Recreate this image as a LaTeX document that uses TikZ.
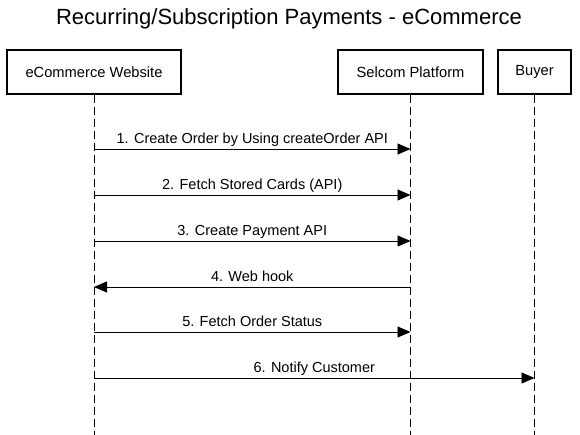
\documentclass[tikz,border=0pt]{standalone}
\usepackage{fontspec}
\setmainfont{Liberation Sans}
\usetikzlibrary{arrows.meta}
\begin{document}
\begin{tikzpicture}[x=1pt,y=-1pt,
  actor/.style={draw,line width=1.6pt,minimum height=44pt,inner sep=0pt,font=\fontsize{14.7}{17}\selectfont},
  life/.style={dash pattern=on 8pt off 4pt,line width=0.9pt},
  msg/.style={line width=0.9pt,-{Triangle[length=13pt,width=11pt]}},
  lbl/.style={font=\fontsize{14.5}{17}\selectfont,inner sep=0pt,above=5.5pt,anchor=base}]
\useasboundingbox (0,0) rectangle (580,435);
\node[font=\fontsize{22}{25}\selectfont,anchor=base] (title) at (289,25) {Recurring/Subscription Payments - eCommerce};
\node[actor,minimum width=174pt] (web) at (94,72) {eCommerce Website};
\node[actor,minimum width=145pt] (sel) at (410.5,72) {Selcom Platform};
\node[actor,minimum width=73pt] (buy) at (534.5,72) {Buyer};
\coordinate (webEnd) at (94,435);
\coordinate (selEnd) at (410.5,435);
\coordinate (buyEnd) at (534.5,435);
\draw[life] (web.south) -- (webEnd);
\draw[life] (sel.south) -- (selEnd);
\draw[life] (buy.south) -- (buyEnd);
\foreach \y/\name in {149/a1,195/a2,241/a3,287/a4,332/a5,378/a6}{
  \coordinate (w\name) at (94,\y);
  \coordinate (s\name) at (410.5,\y);
  \coordinate (b\name) at (534.5,\y);
}
\draw[msg] (wa1) -- node[lbl] {1. Create Order by Using createOrder API} (sa1);
\draw[msg] (wa2) -- node[lbl] {2. Fetch Stored Cards (API)} (sa2);
\draw[msg] (wa3) -- node[lbl] {3. Create Payment API} (sa3);
\draw[msg] (sa4) -- node[lbl] {4. Web hook} (wa4);
\draw[msg] (wa5) -- node[lbl] {5. Fetch Order Status} (sa5);
\draw[msg] (wa6) -- node[lbl] {6. Notify Customer} (ba6);
\end{tikzpicture}
\end{document}
